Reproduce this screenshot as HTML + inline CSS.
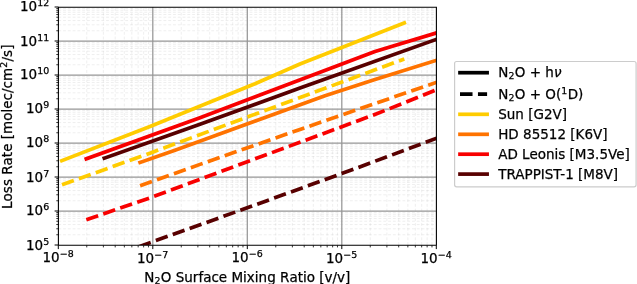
<!DOCTYPE html><html><head><meta charset="utf-8"><title>N2O loss rates</title><style>html,body{margin:0;padding:0;background:#fff;overflow:hidden}svg{display:block}</style></head><body><svg width="637" height="284" viewBox="0 0 637 284">
<rect width="637" height="284" fill="#fff"/>
<defs><clipPath id="ax"><rect x="58.3" y="7.0" width="378.0" height="238.0"/></clipPath></defs>
<g stroke="#b0b0b0" stroke-opacity="0.22" stroke-width="0.95" stroke-dasharray="2.85 1.93" fill="none">
<path d="M86.75 245.00V7.00"/>
<path d="M103.39 245.00V7.00"/>
<path d="M115.19 245.00V7.00"/>
<path d="M124.35 245.00V7.00"/>
<path d="M131.84 245.00V7.00"/>
<path d="M138.16 245.00V7.00"/>
<path d="M143.64 245.00V7.00"/>
<path d="M148.48 245.00V7.00"/>
<path d="M181.25 245.00V7.00"/>
<path d="M197.89 245.00V7.00"/>
<path d="M209.69 245.00V7.00"/>
<path d="M218.85 245.00V7.00"/>
<path d="M226.34 245.00V7.00"/>
<path d="M232.66 245.00V7.00"/>
<path d="M238.14 245.00V7.00"/>
<path d="M242.98 245.00V7.00"/>
<path d="M275.75 245.00V7.00"/>
<path d="M292.39 245.00V7.00"/>
<path d="M304.19 245.00V7.00"/>
<path d="M313.35 245.00V7.00"/>
<path d="M320.84 245.00V7.00"/>
<path d="M327.16 245.00V7.00"/>
<path d="M332.64 245.00V7.00"/>
<path d="M337.48 245.00V7.00"/>
<path d="M370.25 245.00V7.00"/>
<path d="M386.89 245.00V7.00"/>
<path d="M398.69 245.00V7.00"/>
<path d="M407.85 245.00V7.00"/>
<path d="M415.34 245.00V7.00"/>
<path d="M421.66 245.00V7.00"/>
<path d="M427.14 245.00V7.00"/>
<path d="M431.98 245.00V7.00"/>
<path d="M58.30 234.76H436.30"/>
<path d="M58.30 228.78H436.30"/>
<path d="M58.30 224.53H436.30"/>
<path d="M58.30 221.24H436.30"/>
<path d="M58.30 218.54H436.30"/>
<path d="M58.30 216.27H436.30"/>
<path d="M58.30 214.29H436.30"/>
<path d="M58.30 212.56H436.30"/>
<path d="M58.30 200.76H436.30"/>
<path d="M58.30 194.78H436.30"/>
<path d="M58.30 190.53H436.30"/>
<path d="M58.30 187.24H436.30"/>
<path d="M58.30 184.54H436.30"/>
<path d="M58.30 182.27H436.30"/>
<path d="M58.30 180.29H436.30"/>
<path d="M58.30 178.56H436.30"/>
<path d="M58.30 166.76H436.30"/>
<path d="M58.30 160.78H436.30"/>
<path d="M58.30 156.53H436.30"/>
<path d="M58.30 153.24H436.30"/>
<path d="M58.30 150.54H436.30"/>
<path d="M58.30 148.27H436.30"/>
<path d="M58.30 146.29H436.30"/>
<path d="M58.30 144.56H436.30"/>
<path d="M58.30 132.76H436.30"/>
<path d="M58.30 126.78H436.30"/>
<path d="M58.30 122.53H436.30"/>
<path d="M58.30 119.24H436.30"/>
<path d="M58.30 116.54H436.30"/>
<path d="M58.30 114.27H436.30"/>
<path d="M58.30 112.29H436.30"/>
<path d="M58.30 110.56H436.30"/>
<path d="M58.30 98.76H436.30"/>
<path d="M58.30 92.78H436.30"/>
<path d="M58.30 88.53H436.30"/>
<path d="M58.30 85.24H436.30"/>
<path d="M58.30 82.54H436.30"/>
<path d="M58.30 80.27H436.30"/>
<path d="M58.30 78.29H436.30"/>
<path d="M58.30 76.56H436.30"/>
<path d="M58.30 64.76H436.30"/>
<path d="M58.30 58.78H436.30"/>
<path d="M58.30 54.53H436.30"/>
<path d="M58.30 51.24H436.30"/>
<path d="M58.30 48.54H436.30"/>
<path d="M58.30 46.27H436.30"/>
<path d="M58.30 44.29H436.30"/>
<path d="M58.30 42.56H436.30"/>
<path d="M58.30 30.76H436.30"/>
<path d="M58.30 24.78H436.30"/>
<path d="M58.30 20.53H436.30"/>
<path d="M58.30 17.24H436.30"/>
<path d="M58.30 14.54H436.30"/>
<path d="M58.30 12.27H436.30"/>
<path d="M58.30 10.29H436.30"/>
<path d="M58.30 8.56H436.30"/>
</g>
<g stroke="#969696" stroke-width="1.25" fill="none">
<path d="M152.80 245.00V7.00"/>
<path d="M247.30 245.00V7.00"/>
<path d="M341.80 245.00V7.00"/>
<path d="M58.30 211.00H436.30"/>
<path d="M58.30 177.00H436.30"/>
<path d="M58.30 143.00H436.30"/>
<path d="M58.30 109.00H436.30"/>
<path d="M58.30 75.00H436.30"/>
<path d="M58.30 41.00H436.30"/>
</g>
<g clip-path="url(#ax)" fill="none" stroke-linejoin="round">
<path d="M104.30 259.03 L250.00 206.83 L350.00 170.55 L445.00 135.14" stroke="#580000" stroke-width="3.7" stroke-dasharray="12.53 5.42" stroke-dashoffset="-0.9" stroke-linecap="butt"/>
<path d="M86.30 219.82 L150.00 197.80 L376.00 114.07 L445.00 86.42" stroke="#f80000" stroke-width="3.7" stroke-dasharray="12.53 5.42" stroke-dashoffset="0" stroke-linecap="butt"/>
<path d="M140.10 185.72 L200.00 164.37 L300.00 129.43 L445.00 79.35" stroke="#ff7300" stroke-width="3.7" stroke-dasharray="12.53 5.42" stroke-dashoffset="0" stroke-linecap="butt"/>
<path d="M62.00 184.81 L150.00 153.14 L250.00 116.07 L404.30 59.00" stroke="#ffcc00" stroke-width="3.7" stroke-dasharray="12.53 5.42" stroke-dashoffset="0" stroke-linecap="butt"/>
<path d="M104.30 158.13 L200.00 124.20 L300.00 88.10 L445.00 36.29" stroke="#580000" stroke-width="3.7" stroke-linecap="square"/>
<path d="M86.30 158.82 L200.00 117.69 L375.00 51.48 L445.00 30.30" stroke="#f80000" stroke-width="3.7" stroke-linecap="square"/>
<path d="M140.10 162.39 L175.00 150.28 L325.00 95.66 L375.00 79.51 L445.00 57.66" stroke="#ff7300" stroke-width="3.7" stroke-linecap="square"/>
<path d="M61.80 160.72 L150.00 126.57 L255.00 83.80 L300.00 63.99 L404.30 22.97" stroke="#ffcc00" stroke-width="3.7" stroke-linecap="square"/>
</g>
<g stroke="#000" stroke-width="1.1" fill="none" stroke-linecap="square">
<path d="M58.4 245.3H436.40000000000003M58.4 7.3H436.40000000000003M58.4 7.3V245.3M436.40000000000003 7.3V245.3"/>
</g>
<g stroke="#000" stroke-width="1.0" fill="none">
<path d="M58.30 245.3v3.8"/>
<path d="M152.80 245.3v3.8"/>
<path d="M247.30 245.3v3.8"/>
<path d="M341.80 245.3v3.8"/>
<path d="M436.30 245.3v3.8"/>
<path d="M58.4 245.00h-3.8"/>
<path d="M58.4 211.00h-3.8"/>
<path d="M58.4 177.00h-3.8"/>
<path d="M58.4 143.00h-3.8"/>
<path d="M58.4 109.00h-3.8"/>
<path d="M58.4 75.00h-3.8"/>
<path d="M58.4 41.00h-3.8"/>
<path d="M58.4 7.00h-3.8"/>
</g>
<g stroke="#000" stroke-width="0.8" fill="none">
<path d="M86.75 245.3v2.1"/>
<path d="M103.39 245.3v2.1"/>
<path d="M115.19 245.3v2.1"/>
<path d="M124.35 245.3v2.1"/>
<path d="M131.84 245.3v2.1"/>
<path d="M138.16 245.3v2.1"/>
<path d="M143.64 245.3v2.1"/>
<path d="M148.48 245.3v2.1"/>
<path d="M181.25 245.3v2.1"/>
<path d="M197.89 245.3v2.1"/>
<path d="M209.69 245.3v2.1"/>
<path d="M218.85 245.3v2.1"/>
<path d="M226.34 245.3v2.1"/>
<path d="M232.66 245.3v2.1"/>
<path d="M238.14 245.3v2.1"/>
<path d="M242.98 245.3v2.1"/>
<path d="M275.75 245.3v2.1"/>
<path d="M292.39 245.3v2.1"/>
<path d="M304.19 245.3v2.1"/>
<path d="M313.35 245.3v2.1"/>
<path d="M320.84 245.3v2.1"/>
<path d="M327.16 245.3v2.1"/>
<path d="M332.64 245.3v2.1"/>
<path d="M337.48 245.3v2.1"/>
<path d="M370.25 245.3v2.1"/>
<path d="M386.89 245.3v2.1"/>
<path d="M398.69 245.3v2.1"/>
<path d="M407.85 245.3v2.1"/>
<path d="M415.34 245.3v2.1"/>
<path d="M421.66 245.3v2.1"/>
<path d="M427.14 245.3v2.1"/>
<path d="M431.98 245.3v2.1"/>
<path d="M58.4 234.76h-2.1"/>
<path d="M58.4 228.78h-2.1"/>
<path d="M58.4 224.53h-2.1"/>
<path d="M58.4 221.24h-2.1"/>
<path d="M58.4 218.54h-2.1"/>
<path d="M58.4 216.27h-2.1"/>
<path d="M58.4 214.29h-2.1"/>
<path d="M58.4 212.56h-2.1"/>
<path d="M58.4 200.76h-2.1"/>
<path d="M58.4 194.78h-2.1"/>
<path d="M58.4 190.53h-2.1"/>
<path d="M58.4 187.24h-2.1"/>
<path d="M58.4 184.54h-2.1"/>
<path d="M58.4 182.27h-2.1"/>
<path d="M58.4 180.29h-2.1"/>
<path d="M58.4 178.56h-2.1"/>
<path d="M58.4 166.76h-2.1"/>
<path d="M58.4 160.78h-2.1"/>
<path d="M58.4 156.53h-2.1"/>
<path d="M58.4 153.24h-2.1"/>
<path d="M58.4 150.54h-2.1"/>
<path d="M58.4 148.27h-2.1"/>
<path d="M58.4 146.29h-2.1"/>
<path d="M58.4 144.56h-2.1"/>
<path d="M58.4 132.76h-2.1"/>
<path d="M58.4 126.78h-2.1"/>
<path d="M58.4 122.53h-2.1"/>
<path d="M58.4 119.24h-2.1"/>
<path d="M58.4 116.54h-2.1"/>
<path d="M58.4 114.27h-2.1"/>
<path d="M58.4 112.29h-2.1"/>
<path d="M58.4 110.56h-2.1"/>
<path d="M58.4 98.76h-2.1"/>
<path d="M58.4 92.78h-2.1"/>
<path d="M58.4 88.53h-2.1"/>
<path d="M58.4 85.24h-2.1"/>
<path d="M58.4 82.54h-2.1"/>
<path d="M58.4 80.27h-2.1"/>
<path d="M58.4 78.29h-2.1"/>
<path d="M58.4 76.56h-2.1"/>
<path d="M58.4 64.76h-2.1"/>
<path d="M58.4 58.78h-2.1"/>
<path d="M58.4 54.53h-2.1"/>
<path d="M58.4 51.24h-2.1"/>
<path d="M58.4 48.54h-2.1"/>
<path d="M58.4 46.27h-2.1"/>
<path d="M58.4 44.29h-2.1"/>
<path d="M58.4 42.56h-2.1"/>
<path d="M58.4 30.76h-2.1"/>
<path d="M58.4 24.78h-2.1"/>
<path d="M58.4 20.53h-2.1"/>
<path d="M58.4 17.24h-2.1"/>
<path d="M58.4 14.54h-2.1"/>
<path d="M58.4 12.27h-2.1"/>
<path d="M58.4 10.29h-2.1"/>
<path d="M58.4 8.56h-2.1"/>
</g>
<rect x="454.6" y="61.5" width="181.5" height="125.30000000000001" rx="2.0" ry="2.0" fill="#fff" fill-opacity="0.8" stroke="#cccccc" stroke-width="1.2"/>
<path d="M460.0 72.7H487.1" stroke="#000000" stroke-width="3.7" stroke-linecap="square" fill="none"/>
<path d="M460.0 94.2H487.1" stroke="#000000" stroke-width="3.7" stroke-dasharray="12.53 5.42" fill="none"/>
<path d="M460.0 114.3H487.1" stroke="#ffcc00" stroke-width="3.7" stroke-linecap="square" fill="none"/>
<path d="M460.0 134.3H487.1" stroke="#ff7300" stroke-width="3.7" stroke-linecap="square" fill="none"/>
<path d="M460.0 154.2H487.1" stroke="#f80000" stroke-width="3.7" stroke-linecap="square" fill="none"/>
<path d="M460.0 174.1H487.1" stroke="#580000" stroke-width="3.7" stroke-linecap="square" fill="none"/>
<g font-family="DejaVu Sans, sans-serif" fill="#000" stroke="#000" stroke-width="0.25">
<text transform="translate(42.44 263.16)"><tspan x="0.00 8.59" y="-1.32" font-size="13.50">10</tspan><tspan x="17.31 25.23" y="-6.49" font-size="9.45">−8</tspan></text>
<text transform="translate(136.94 263.16)"><tspan x="0.00 8.59" y="-0.09" font-size="13.50">10</tspan><tspan x="17.31 25.23" y="-5.25" font-size="9.45">−7</tspan></text>
<text transform="translate(231.44 263.16)"><tspan x="0.00 8.59" y="-1.32" font-size="13.50">10</tspan><tspan x="17.31 25.23" y="-6.49" font-size="9.45">−6</tspan></text>
<text transform="translate(325.94 263.16)"><tspan x="0.00 8.59" y="-0.09" font-size="13.50">10</tspan><tspan x="17.31 25.23" y="-5.25" font-size="9.45">−5</tspan></text>
<text transform="translate(420.44 263.16)"><tspan x="0.00 8.59" y="-0.09" font-size="13.50">10</tspan><tspan x="17.31 25.23" y="-5.25" font-size="9.45">−4</tspan></text>
<text transform="translate(144.23 282.23)"><tspan x="0.00" y="-0.55" font-size="13.50">N</tspan><tspan x="10.23" y="1.67" font-size="9.45">2</tspan><tspan x="16.61 27.24 31.53 40.10 48.65 54.20 58.96 67.23 74.65 82.96 87.25 98.89 102.65 110.63 114.39 122.94 131.51 135.80 145.18 153.46 158.75 162.50 170.76 175.05 180.32 188.31 192.85 200.84" y="-0.55" font-size="13.50">O Surface Mixing Ratio [v/v]</tspan></text>
<text transform="translate(26.03 250.43)"><tspan x="0.00 8.59" y="-0.09" font-size="13.50">10</tspan><tspan x="17.31" y="-5.25" font-size="9.45">5</tspan></text>
<text transform="translate(26.03 216.43)"><tspan x="0.00 8.59" y="-1.32" font-size="13.50">10</tspan><tspan x="17.31" y="-6.49" font-size="9.45">6</tspan></text>
<text transform="translate(26.03 182.43)"><tspan x="0.00 8.59" y="-0.09" font-size="13.50">10</tspan><tspan x="17.31" y="-5.25" font-size="9.45">7</tspan></text>
<text transform="translate(26.03 148.43)"><tspan x="0.00 8.59" y="-1.32" font-size="13.50">10</tspan><tspan x="17.31" y="-6.49" font-size="9.45">8</tspan></text>
<text transform="translate(26.03 114.43)"><tspan x="0.00 8.59" y="-1.32" font-size="13.50">10</tspan><tspan x="17.31" y="-6.49" font-size="9.45">9</tspan></text>
<text transform="translate(19.96 80.43)"><tspan x="0.00 8.59" y="-1.32" font-size="13.50">10</tspan><tspan x="17.31 23.32" y="-6.49" font-size="9.45">10</tspan></text>
<text transform="translate(19.96 46.43)"><tspan x="0.00 8.59" y="-0.09" font-size="13.50">10</tspan><tspan x="17.31 23.32" y="-5.25" font-size="9.45">11</tspan></text>
<text transform="translate(19.96 12.43)"><tspan x="0.00 8.59" y="-1.32" font-size="13.50">10</tspan><tspan x="17.31 23.32" y="-6.49" font-size="9.45">12</tspan></text>
<text transform="translate(13.25 208.91) rotate(-90)"><tspan x="0.00 7.52 15.78 22.81 29.85 34.14 43.52 51.79 57.08 65.39 69.68 74.95 88.10 96.36 100.11 108.42 115.84 120.39 127.81" y="-1.32" font-size="13.50">Loss Rate [molec/cm</tspan><tspan x="141.09" y="-6.49" font-size="9.45">2</tspan><tspan x="147.47 152.02 159.05" y="-1.32" font-size="13.50">/s]</tspan></text>
<text transform="translate(498.20 77.16)"><tspan x="0.00" y="-0.55" font-size="13.50">N</tspan><tspan x="10.23" y="1.67" font-size="9.45">2</tspan><tspan x="16.61 27.24 31.53 42.84 47.13" y="-0.55" font-size="13.50">O + h</tspan><tspan x="55.69" y="-0.55" font-size="13.50" font-style="oblique">ν</tspan></text>
<text transform="translate(498.20 99.35)"><tspan x="0.00" y="-0.09" font-size="13.50">N</tspan><tspan x="10.23" y="2.13" font-size="9.45">2</tspan><tspan x="16.61 27.24 31.53 42.84 47.13 57.76" y="-0.09" font-size="13.50">O + O(</tspan><tspan x="63.15" y="-5.25" font-size="9.45">1</tspan><tspan x="69.53 79.93" y="-0.09" font-size="13.50">D)</tspan></text>
<text transform="translate(498.20 119.17)"><tspan x="0.00" y="0.00" font-size="13.50">Sun [G2V]</tspan></text>
<text transform="translate(498.20 138.98)"><tspan x="0.00" y="0.00" font-size="13.50">HD 85512 [K6V]</tspan></text>
<text transform="translate(498.20 158.80)"><tspan x="0.00" y="0.00" font-size="13.50">AD Leonis [M3.5Ve]</tspan></text>
<text transform="translate(498.20 178.61)"><tspan x="0.00" y="0.00" font-size="13.50">TRAPPIST-1 [M8V]</tspan></text>
</g>
</svg></body></html>
